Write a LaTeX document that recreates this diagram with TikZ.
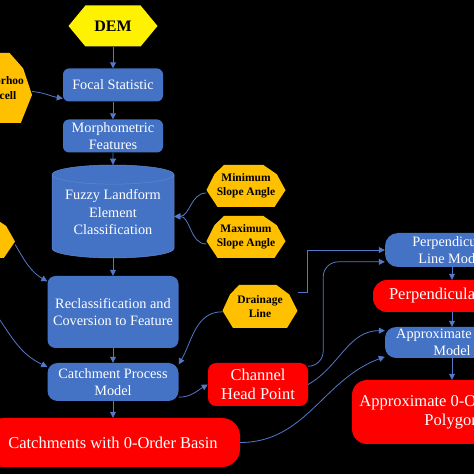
\documentclass[tikz,border=0pt]{standalone}
\usepackage{fontspec}
\setmainfont{Liberation Serif}
\usepackage{tikz}
\usetikzlibrary{shapes.geometric, arrows.meta, calc}
\definecolor{myblue}{RGB}{68,114,196}
\definecolor{myred}{RGB}{255,0,0}
\definecolor{myorange}{RGB}{255,192,0}
\definecolor{myyellow}{RGB}{255,242,0}
\definecolor{myline}{RGB}{84,120,200}
\tikzset{
  block/.style={rectangle, fill=myblue, text=white, align=center, inner sep=0pt,
    font=\fontsize{14.3}{17.5}\selectfont},
  outbox/.style={rectangle, fill=myred, text=white, align=center, inner sep=0pt,
    font=\fontsize{16.5}{19.5}\selectfont},
  param/.style={rectangle, align=center, inner sep=0pt, minimum width=79pt, minimum height=42pt,
    font=\fontsize{11.5}{14.5}\selectfont\bfseries,
    path picture={\fill[myorange] let \p1=(path picture bounding box.south west),
      \p2=(path picture bounding box.north east) in
      ({\x1+0.22*(\x2-\x1)},\y2) -- ({\x1+0.72*(\x2-\x1)},\y2)
      -- ({\x1+0.89*(\x2-\x1)},{\y2-0.22*(\y2-\y1)}) -- (\x2,{\y2-0.6*(\y2-\y1)})
      -- ({\x1+0.86*(\x2-\x1)},\y1) -- ({\x1+0.14*(\x2-\x1)},\y1)
      -- (\x1,{\y2-0.6*(\y2-\y1)}) -- ({\x1+0.1*(\x2-\x1)},{\y2-0.22*(\y2-\y1)}) -- cycle;}},
  input/.style={rectangle, align=center, inner sep=0pt, font=\fontsize{16}{19}\selectfont\bfseries,
    path picture={\fill[myyellow] let \p1=(path picture bounding box.south west),
      \p2=(path picture bounding box.north east) in
      ({\x1+0.19*(\x2-\x1)},\y2) -- ({\x1+0.81*(\x2-\x1)},\y2) -- (\x2,{0.5*(\y1+\y2)})
      -- ({\x1+0.81*(\x2-\x1)},\y1) -- ({\x1+0.19*(\x2-\x1)},\y1) -- (\x1,{0.5*(\y1+\y2)}) -- cycle;}},
  arrow/.style={-{Triangle[length=6pt,width=6pt]}, line width=0.8pt, color=myline}
}
\begin{document}
\begin{tikzpicture}[x=1pt, y=1pt]
\useasboundingbox (0,0) rectangle (474,474);
\clip (0,0) rectangle (474,474);
\fill[black] (0,0) rectangle (474,474);

% main column
\node[input, minimum width=89pt, minimum height=41pt] (dem) at (113,448) {DEM};
\node[block, minimum width=100pt, minimum height=33pt, rounded corners=6pt] (focal) at (113,389) {Focal Statistic};
\node[block, minimum width=100pt, minimum height=33pt, rounded corners=6pt] (morph) at (113,338) {Morphometric\\Features};
\node[cylinder, shape border rotate=90, aspect=0.2, fill=myblue, draw=myblue!85!white, line width=0.5pt,
  text=white, align=center, inner sep=0pt, font=\fontsize{14.3}{17.5}\selectfont,
  minimum width=122pt, minimum height=93pt, anchor=shape center] (fuzzy) at (113,262.5)
  {Fuzzy Landform\\Element\\Classification\\[-9pt]\mbox{}};
\node[block, minimum width=131pt, minimum height=72pt, rounded corners=8pt] (reclass) at (113,162) {Reclassification and\\Coversion to Feature};
\node[block, minimum width=131pt, minimum height=38pt, rounded corners=10pt] (catch) at (113,92) {Catchment Process\\Model};
\node[outbox, minimum width=254pt, minimum height=49pt, rounded corners=18pt] (basin) at (113,31.5) {Catchments with 0-Order Basin};

% parameters
\node[param, minimum width=80pt, minimum height=70pt] (nbhd) at (-8,386) {Neighborhoo\\d Size cell};
\node[param] (minang) at (246,288) {Minimum\\Slope Angle};
\node[param] (maxang) at (246,237) {Maximum\\Slope Angle};
\node[param, minimum width=80pt, minimum height=41pt] (leftin) at (-25,236.5) {};
\node[param, minimum width=75pt, minimum height=43pt] (drain) at (260,167.5) {Drainage\\Line};
\coordinate (offleft) at (-15,174);

% right column
\node[outbox, minimum width=100pt, minimum height=43pt, rounded corners=8pt] (channel) at (258,89.5) {Channel\\Head Point};
\node[block, minimum width=134pt, minimum height=34pt, rounded corners=13pt] (perpmodel) at (452,224) {Perpendicular\\Line Model};
\node[outbox, minimum width=158pt, minimum height=32pt, rounded corners=14pt] (perpline) at (452,178) {Perpendicular Line};
\node[block, minimum width=134pt, minimum height=31pt, rounded corners=11pt] (apxmodel) at (452,131.5) {Approximate Basin\\Model};
\node[outbox, minimum width=200pt, minimum height=64pt, rounded corners=15pt] (apxpoly) at (452,62) {Approximate 0-Order Basin\\Polygon};

\draw[arrow] (dem) -- (focal);
\draw[arrow] (focal) -- (morph);
\draw[arrow] (morph) -- (fuzzy);
\draw[arrow] (fuzzy) -- (reclass);
\draw[arrow] (reclass) -- (catch);
\draw[arrow] (catch) -- (basin);
\draw[arrow] (perpmodel) -- (perpline);
\draw[arrow] (perpline) -- (apxmodel);
\draw[arrow] (apxmodel) -- (apxpoly);

\draw[arrow] (nbhd.-5) to[out=-5,in=170] (focal.195);
\draw[arrow] (minang.190) to[out=180,in=0] (fuzzy.east);
\draw[arrow] (maxang.190) to[out=180,in=0] (fuzzy.east);
\draw[arrow] (leftin.-10) to[out=-60,in=150] (reclass.155);
\draw[arrow] (offleft) to[out=-50,in=155] (catch.167);
\draw[arrow] (drain.188) to[out=180,in=60] (catch.15);
\draw[arrow] (catch.-13) to[out=0,in=210] (channel.west);

% links to the right column
\draw[arrow] (drain.20) -- ++(10,0) |- (perpmodel.west);
\draw[arrow, rounded corners=15pt] (channel.20) -- ++(15,0) |- (perpmodel.190);
\draw[arrow] (channel.east) to[out=30,in=180] (apxmodel.170);
\draw[arrow] (basin.east) to[out=0,in=200] (apxmodel.192);
\end{tikzpicture}
\end{document}
